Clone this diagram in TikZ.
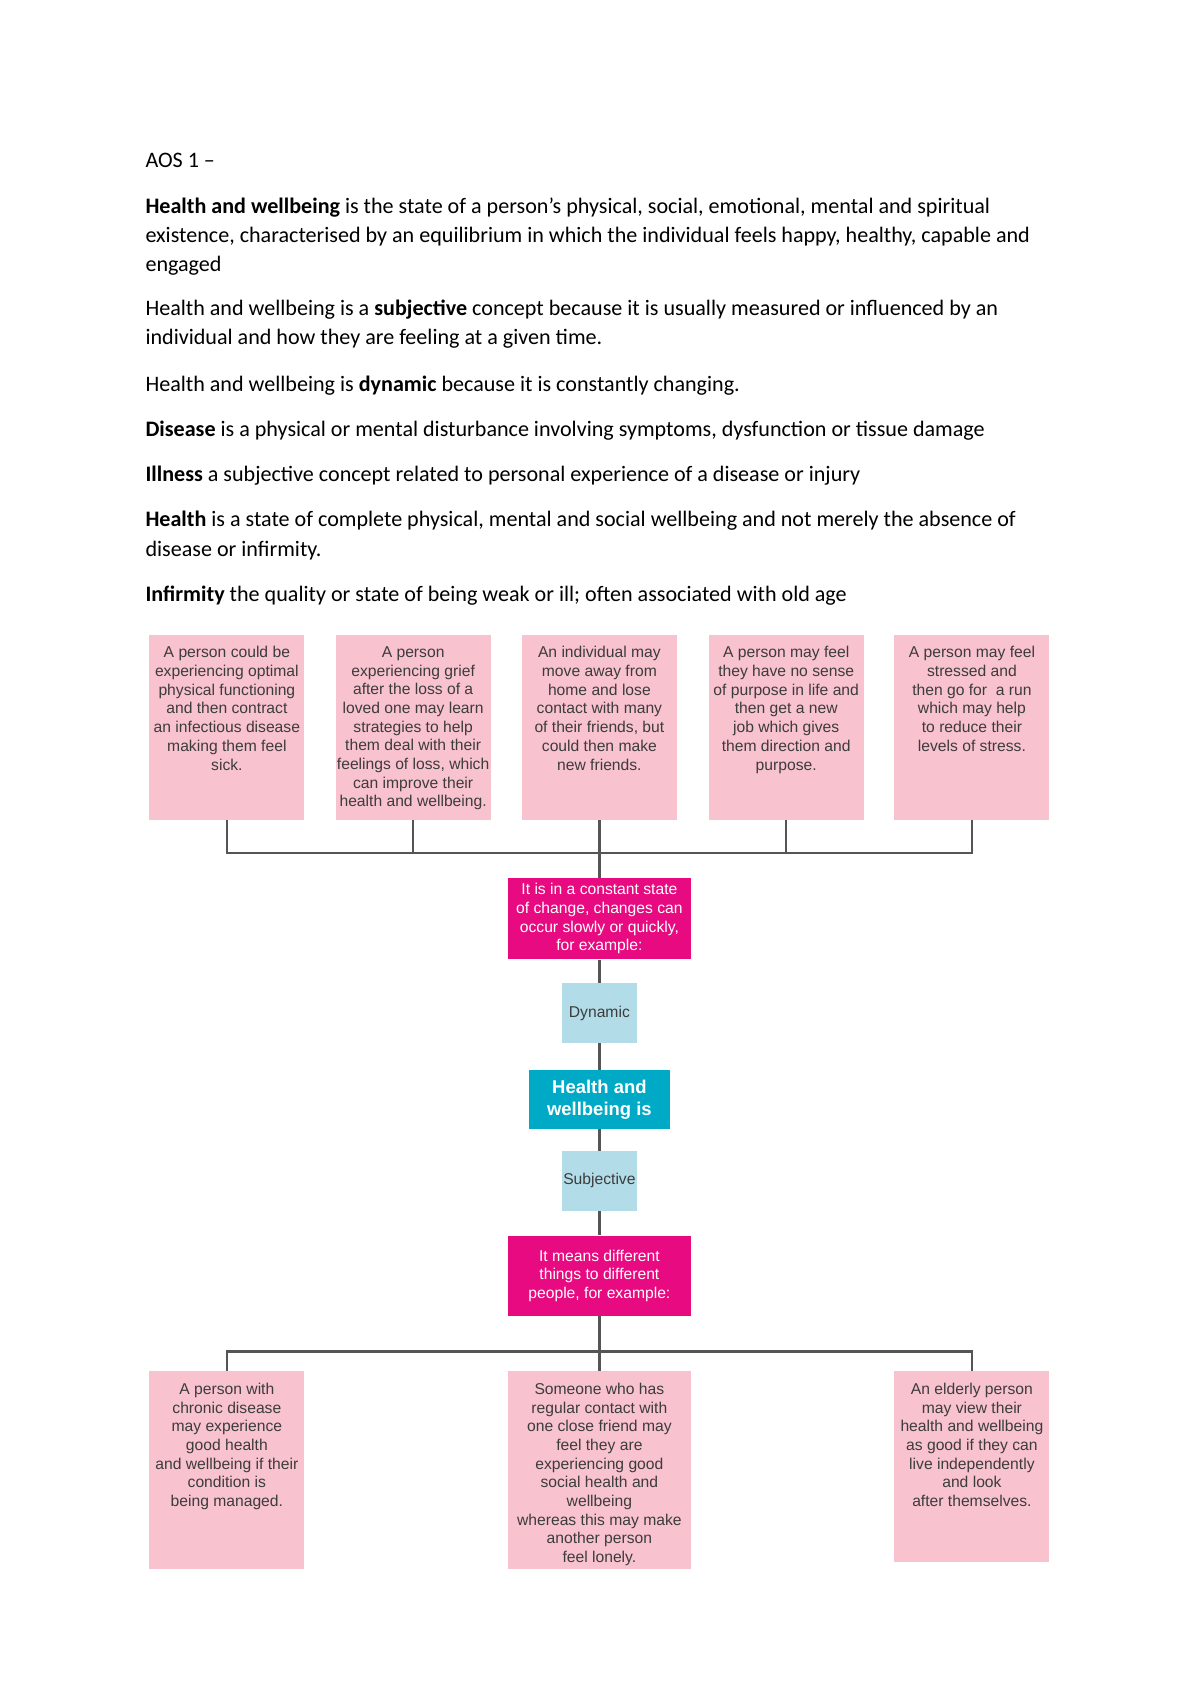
\documentclass[tikz,border=0pt]{standalone}
\usepackage{fontspec}
\setmainfont{Carlito}
\newfontfamily\arialfont{Liberation Sans}
\newcommand\egfont{\arialfont\fontsize{7.8}{9.3}\selectfont}
\newcommand\bodyfont{\fontsize{11}{14.5}\selectfont}

\definecolor{egpink}{RGB}{248,194,207}
\definecolor{egtext}{RGB}{60,60,60}
\definecolor{hotpink}{RGB}{232,10,128}
\definecolor{paleblue}{RGB}{178,220,232}
\definecolor{hwteal}{RGB}{0,170,198}
\definecolor{connector}{RGB}{85,85,85}

\tikzset{
  para/.style={font=\bodyfont, align=left, inner sep=0pt, anchor=base west},
  egbox/.style 2 args={fill=egpink, text=egtext, font=\egfont,
    inner xsep=0pt, inner ysep=0.21cm,
    execute at begin node={\begin{minipage}[c][#2][t]{#1}\centering},
    execute at end node={\end{minipage}}},
  pinkbox/.style={fill=hotpink, text=white, font=\egfont, align=center,
    inner sep=0pt, minimum width=3.203cm},
  tagbox/.style={fill=paleblue, text=egtext, font=\egfont, inner sep=0pt,
    minimum width=1.308cm, minimum height=1.042cm},
  conn/.style={draw=connector, line width=1.1pt}
}

\begin{document}
\begin{tikzpicture}[x=0.01895cm, y=-0.01895cm]
\path[fill=white] (0,0) rectangle (1108,1568);

%%%%%%%%%%%%%%%%%Definitions%%%%%%%%%%%%%%
\node[para] (aos) at (134,154.5){AOS 1 --};
\node[para] (hw) at (134,250.5){\textbf{Health and wellbeing} is the state of a person’s physical, social, emotional, mental and spiritual\\existence, characterised by an equilibrium in which the individual feels happy, healthy, capable and\\engaged};
\node[para] (subj) at (134,318.5){Health and wellbeing is a \textbf{subjective} concept because it is usually measured or influenced by an\\individual and how they are feeling at a given time.};
\node[para] (dyn) at (134,361.5){Health and wellbeing is \textbf{dynamic} because it is constantly changing.};
\node[para] (dis) at (134,403.5){\textbf{Disease} is a physical or mental disturbance involving symptoms, dysfunction or tissue damage};
\node[para] (ill) at (134,444.5){\textbf{Illness} a subjective concept related to personal experience of a disease or injury};
\node[para] (hea) at (134,513.5){\textbf{Health} is a state of complete physical, mental and social wellbeing and not merely the absence of\\disease or infirmity.};
\node[para] (inf) at (134,555.5){\textbf{Infirmity} the quality or state of being weak or ill; often associated with old age};

%%%%%%%%%%%%%%%%%Dynamic examples%%%%%%%%%%%%%%
%Example 1
\node[egbox={2.71cm}{2.82cm},
] (ex1) at (209.5,671.5){A person could be\\experiencing optimal\\physical functioning\\and then contract\\an infectious disease\\making them feel\\sick.};

%Example 2
\node[egbox={2.71cm}{2.82cm},
] (ex2) at (381.5,671.5){A person\\experiencing grief\\after the loss of a\\loved one may learn\\strategies to help\\them deal with their\\feelings of loss, which\\can improve their\\health and wellbeing.};

%Example 3
\node[egbox={2.71cm}{2.82cm},
] (ex3) at (553.5,671.5){An individual may\\move away from\\home and lose\\contact with many\\of their friends, but\\could then make\\new friends.};

%Example 4
\node[egbox={2.71cm}{2.82cm},
] (ex4) at (726,671.5){A person may feel\\they have no sense\\of purpose in life and\\then get a new\\job which gives\\them direction and\\purpose.};

%Example 5
\node[egbox={2.71cm}{2.82cm},
] (ex5) at (897.5,671.5){A person may feel\\stressed and\\then go for \ a run\\which may help\\to reduce their\\levels of stress.};

%%%%%%%%%%%%%%%%%Centre column%%%%%%%%%%%%%%
%Change
\node[pinkbox, minimum height=1.421cm,
] (change) at (553.5,848.5){It is in a constant state\\of change, changes can\\occur slowly or quickly,\\for example:};

%Dynamic
\node[tagbox,
] (dynamic) at (553.5,935.5){Dynamic};

%Health and wellbeing
\node[fill=hwteal, text=white, inner sep=0pt, align=center,
  font=\arialfont\bfseries\fontsize{9.2}{10.8}\selectfont,
  minimum width=2.464cm, minimum height=1.023cm,
] (hwb) at (553.5,1015.5){Health and\\wellbeing is};

%Subjective
\node[tagbox,
] (subjective) at (553.5,1090.5){Subjective};

%Means
\node[pinkbox, minimum height=1.402cm,
] (means) at (553.5,1178){It means different\\things to different\\people, for example:};

%%%%%%%%%%%%%%%%%Subjective examples%%%%%%%%%%%%%%
%Example 1
\node[egbox={2.71cm}{3.048cm},
] (sb1) at (209.5,1357.5){A person with\\chronic disease\\may experience\\good health\\and wellbeing if their\\condition is\\being managed.};

%Example 2
\node[egbox={3.203cm}{3.048cm},
] (sb2) at (553.5,1357.5){Someone who has\\regular contact with\\one close friend may\\feel they are\\experiencing good\\social health and\\wellbeing\\whereas this may make\\another person\\feel lonely.};

%Example 3
\node[egbox={2.71cm}{2.915cm},
] (sb3) at (897.5,1354){An elderly person\\may view their\\health and wellbeing\\as good if they can\\live independently\\and look\\after themselves.};

%%%%%%%%%%%%%%%%%Connectors%%%%%%%%%%%%%%
\coordinate (topbus) at (553.5,788);
\coordinate (botbus) at (553.5,1248);

\draw[conn] (ex1.south) |- (topbus) -| (ex5.south);
\draw[conn] (ex2.south) -- (ex2.south |- topbus);
\draw[conn] (ex4.south) -- (ex4.south |- topbus);
\draw[conn] (ex3.south) -- (change.north);
\draw[conn] (change.south) -- (dynamic.north);
\draw[conn] (dynamic.south) -- (hwb.north);
\draw[conn] (hwb.south) -- (subjective.north);
\draw[conn] (subjective.south) -- (means.north);
\draw[conn] (means.south) -- (sb2.north);
\draw[conn] (sb1.north) |- (botbus) -| (sb3.north);

\end{tikzpicture}
\end{document}
